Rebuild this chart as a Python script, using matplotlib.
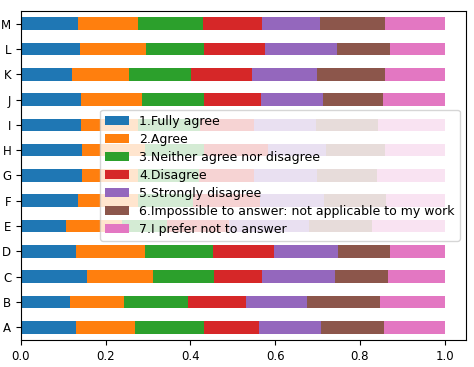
import pandas as pd
import matplotlib
matplotlib.use('Agg')
import matplotlib.pyplot as plt

plt.rcParams['font.size'] = 8.5

# questions (rows, bottom to top)
categories = ['A', 'B', 'C', 'D', 'E', 'F', 'G', 'H', 'I', 'J', 'K', 'L', 'M']

# share of answers per category
fully_agree = [0.130, 0.117, 0.155, 0.131, 0.106, 0.135, 0.144, 0.144, 0.142, 0.142, 0.120, 0.139, 0.135]
agree = [0.140, 0.126, 0.157, 0.162, 0.132, 0.142, 0.133, 0.149, 0.135, 0.143, 0.134, 0.156, 0.141]
neither = [0.161, 0.151, 0.143, 0.161, 0.106, 0.130, 0.143, 0.138, 0.146, 0.146, 0.148, 0.136, 0.153]
disagree = [0.131, 0.137, 0.114, 0.144, 0.146, 0.156, 0.129, 0.153, 0.127, 0.136, 0.144, 0.144, 0.140]
strongly_disagree = [0.147, 0.144, 0.171, 0.149, 0.189, 0.153, 0.149, 0.136, 0.147, 0.146, 0.152, 0.170, 0.137]
impossible = [0.148, 0.173, 0.126, 0.125, 0.149, 0.145, 0.141, 0.138, 0.145, 0.141, 0.162, 0.125, 0.154]
prefer_not = [0.143, 0.152, 0.134, 0.128, 0.172, 0.139, 0.161, 0.142, 0.158, 0.146, 0.140, 0.130, 0.140]

answers = ['1.Fully agree', '2.Agree', '3.Neither agree nor disagree', '4.Disagree',
           '5.Strongly disagree', '6.Impossible to answer: not applicable to my work',
           '7.I prefer not to answer']

df = pd.DataFrame({
    answers[0]: fully_agree,
    answers[1]: agree,
    answers[2]: neither,
    answers[3]: disagree,
    answers[4]: strongly_disagree,
    answers[5]: impossible,
    answers[6]: prefer_not,
}, index=categories)

fig, ax = plt.subplots(figsize=(4.74, 3.67), dpi=100)
df.plot(kind='barh', stacked=True, ax=ax)
ax.legend(loc='center right', fontsize=9, labelspacing=0.4, handlelength=1.9)

fig.subplots_adjust(left=0.044, right=0.983, bottom=0.074, top=0.970)
fig.savefig('out.png', dpi=100)
